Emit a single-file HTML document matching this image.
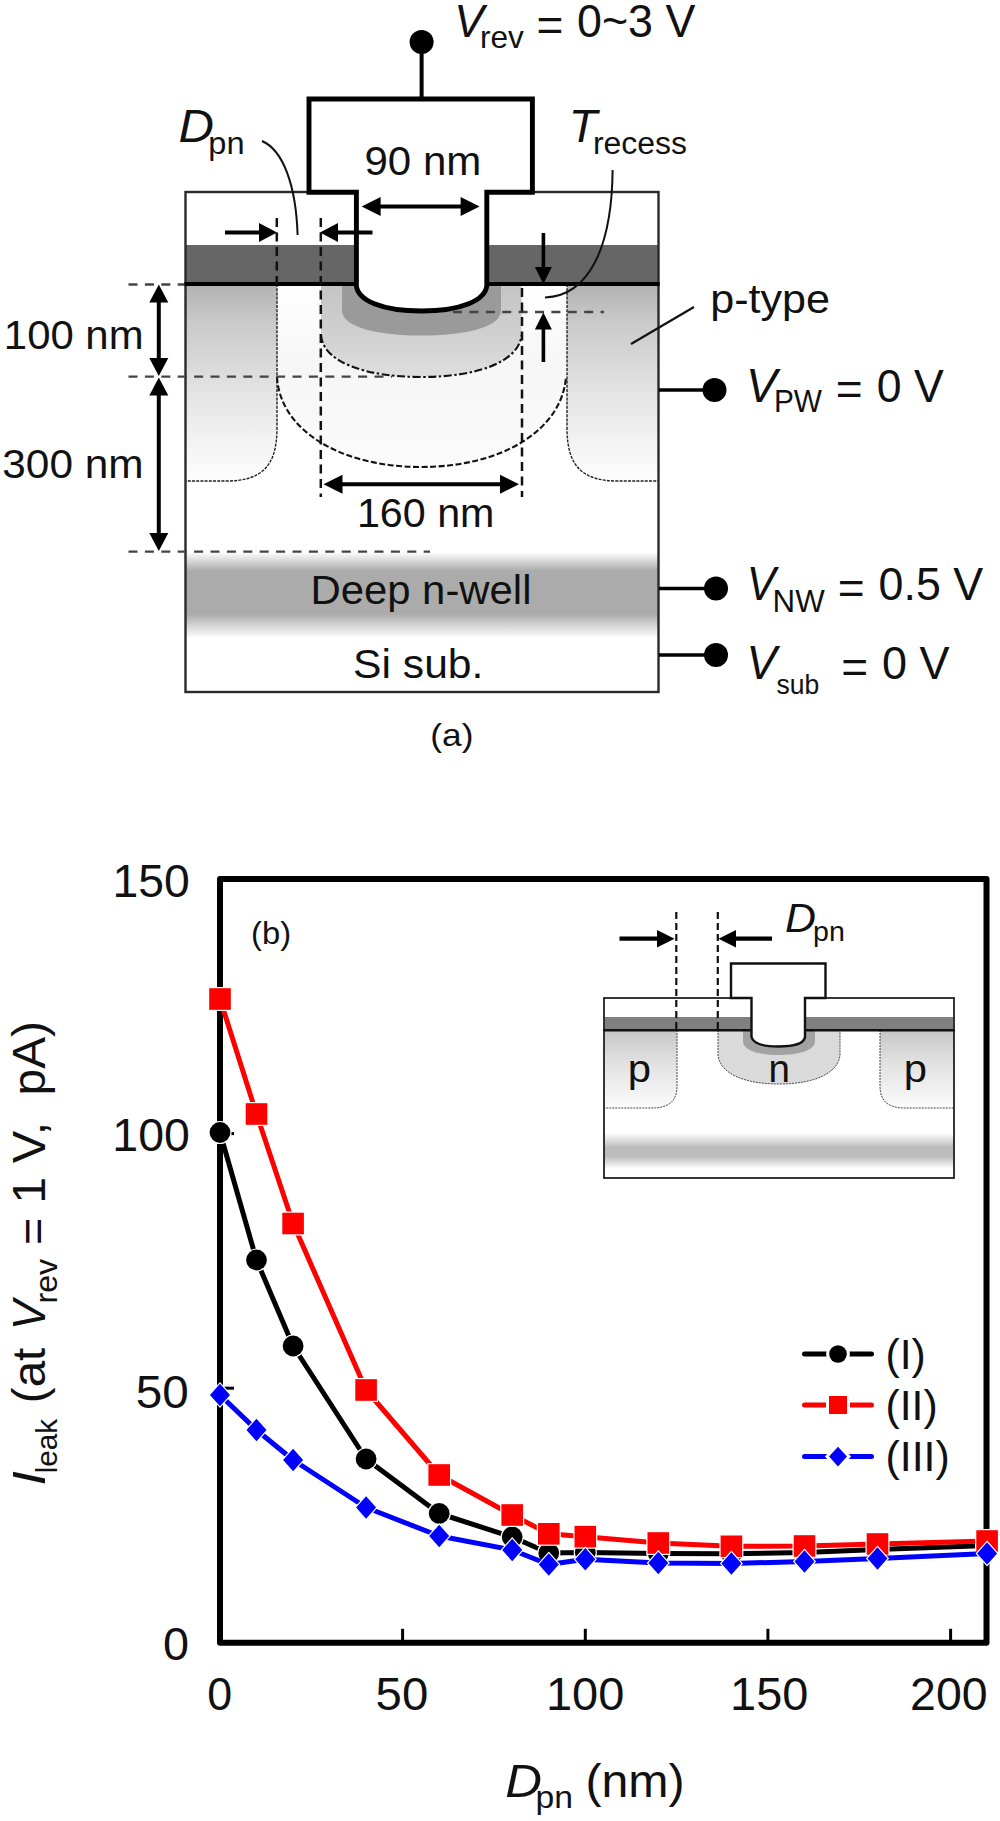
<!DOCTYPE html>
<html lang="en">
<head>
<meta charset="utf-8">
<title>Figure</title>
<style>
html,body{margin:0;padding:0;background:#fff;}
body{width:1000px;height:1821px;overflow:hidden;}
svg{display:block;}
text{font-family:"Liberation Sans",Arial,Helvetica,sans-serif;fill:#111;}
</style>
</head>
<body>
<svg width="1000" height="1821" viewBox="0 0 1000 1821">
<defs>
<linearGradient id="pw" x1="0" y1="0" x2="0" y2="1">
<stop offset="0" stop-color="#b2b2b2"/><stop offset="0.2" stop-color="#cacaca"/><stop offset="0.5" stop-color="#e0e0e0"/><stop offset="0.8" stop-color="#f3f3f3"/><stop offset="1" stop-color="#fdfdfd"/>
</linearGradient>
<linearGradient id="nm" x1="0" y1="0" x2="0" y2="1">
<stop offset="0" stop-color="#ffffff"/><stop offset="0.45" stop-color="#f6f6f6"/><stop offset="1" stop-color="#fbfbfb"/>
</linearGradient>
<linearGradient id="nr" x1="0" y1="0" x2="0" y2="1">
<stop offset="0" stop-color="#c4c4c4"/><stop offset="0.5" stop-color="#cfcfcf"/><stop offset="1" stop-color="#dedede"/>
</linearGradient>
<linearGradient id="dnw" x1="0" y1="0" x2="0" y2="1">
<stop offset="0" stop-color="#ffffff"/><stop offset="0.22" stop-color="#ababab"/><stop offset="0.72" stop-color="#ababab"/><stop offset="1" stop-color="#ffffff"/>
</linearGradient>
<linearGradient id="dnw2" x1="0" y1="0" x2="0" y2="1">
<stop offset="0" stop-color="#ffffff"/><stop offset="0.4" stop-color="#bcbcbc"/><stop offset="0.65" stop-color="#bcbcbc"/><stop offset="1" stop-color="#ffffff"/>
</linearGradient>
<linearGradient id="pw2" x1="0" y1="0" x2="0" y2="1">
<stop offset="0" stop-color="#c6c6c6"/><stop offset="0.4" stop-color="#e0e0e0"/><stop offset="1" stop-color="#fcfcfc"/>
</linearGradient>
</defs>
<rect width="1000" height="1821" fill="#fff"/>

<g id="fig-a">
<rect x="185.5" y="192" width="473" height="500" fill="#fff"/>
<rect x="185.5" y="552" width="473" height="86" fill="url(#dnw)"/>
<path d="M185.5,284 H277 V428 C277,466 262,481 226,481 H185.5 Z" fill="url(#pw)"/>
<path d="M658.5,284 H567 V428 C567,466 582,481 618,481 H658.5 Z" fill="url(#pw)"/>
<path d="M277,284 V377 C280,430 340,467 421,467 C502,467 562,430 566,377 V284 Z" fill="url(#nm)"/>
<path d="M321,284 V335 C323,362 365,377 421,377 C477,377 519,362 521.5,335 V284 Z" fill="url(#nr)"/>
<path d="M342,284 V311 C343,328 380,335.5 421.5,335.5 C463,335.5 500,328 501,311 V284 Z" fill="#9a9a9a"/>
<rect x="185.5" y="245" width="473" height="39" fill="#666"/>
<path d="M277,284 V428 C277,466 262,481 226,481 H185.5" fill="none" stroke="#222" stroke-width="1.4" stroke-dasharray="3 1.2"/>
<path d="M567,284 V428 C567,466 582,481 618,481 H658.5" fill="none" stroke="#222" stroke-width="1.4" stroke-dasharray="3 1.2"/>
<path d="M277,377 C280,430 340,467 421,467 C502,467 562,430 566,377" fill="none" stroke="#111" stroke-width="2.1" stroke-dasharray="6 2.5"/>
<path d="M321,335 C323,362 365,377 421,377 C477,377 519,362 521.5,335" fill="none" stroke="#111" stroke-width="2.1" stroke-dasharray="8 2.5 2.5 2.5"/>
<rect x="185.5" y="192" width="473" height="500" fill="none" stroke="#2a2a2a" stroke-width="2.4"/>
<path d="M184.3,284 H659.7" stroke="#000" stroke-width="4" fill="none"/>
<path d="M309,99 H532.4 V192.3 H486.8 V286 C485,300 462,311 421.6,311 C381,311 358,300 356.4,286 V192.3 H309 Z" fill="#fff" stroke="#000" stroke-width="4.9" stroke-linejoin="miter"/>
<path d="M421.6,42 V99" stroke="#000" stroke-width="4" fill="none"/>
<circle cx="421.6" cy="42" r="12" fill="#000"/>
<path d="M128.5,284.5 H184" stroke="#444" stroke-width="2.3" stroke-dasharray="9 7.4" fill="none"/>
<path d="M128.5,376.6 H392" stroke="#444" stroke-width="2.3" stroke-dasharray="9 7.4" fill="none"/>
<path d="M128.5,551.6 H430" stroke="#444" stroke-width="2.3" stroke-dasharray="9 7.4" fill="none"/>
<path d="M453,312 H604" stroke="#444" stroke-width="2.3" stroke-dasharray="9 7.4" fill="none"/>
<path d="M276.8,218 V284" stroke="#111" stroke-width="2.5" stroke-dasharray="9 5.5" fill="none"/>
<path d="M320.8,218 V497" stroke="#111" stroke-width="2.5" stroke-dasharray="9 5.5" fill="none"/>
<path d="M522,288 V497" stroke="#111" stroke-width="2.5" stroke-dasharray="9 5.5" fill="none"/>
<path d="M225,232.6 H261" stroke="#000" stroke-width="4" fill="none"/>
<path d="M277,232.6 L259,223.1 L259,242.1 Z" fill="#000"/>
<path d="M372.5,232.6 H336" stroke="#000" stroke-width="4" fill="none"/>
<path d="M320,232.6 L338,223.1 L338,242.1 Z" fill="#000"/>
<path d="M378.6,206.4 H462.6" stroke="#000" stroke-width="4" fill="none"/>
<path d="M361.6,206.4 L380.6,196.9 L380.6,215.9 Z" fill="#000"/>
<path d="M479.6,206.4 L460.6,196.9 L460.6,215.9 Z" fill="#000"/>
<path d="M340.5,484.25 H502" stroke="#000" stroke-width="4" fill="none"/>
<path d="M323.5,484.25 L342.5,474.75 L342.5,493.75 Z" fill="#000"/>
<path d="M519,484.25 L500,474.75 L500,493.75 Z" fill="#000"/>
<path d="M158.8,300.5 V360" stroke="#000" stroke-width="4" fill="none"/>
<path d="M158.8,284.5 L149.3,302.5 L168.3,302.5 Z" fill="#000"/>
<path d="M158.8,376 L149.3,358 L168.3,358 Z" fill="#000"/>
<path d="M158.8,393.5 V535" stroke="#000" stroke-width="4" fill="none"/>
<path d="M158.8,377.5 L149.3,395.5 L168.3,395.5 Z" fill="#000"/>
<path d="M158.8,551 L149.3,533 L168.3,533 Z" fill="#000"/>
<path d="M543.4,233 V269" stroke="#000" stroke-width="3.6" fill="none"/>
<path d="M543.4,284 L534.9,267 L551.9,267 Z" fill="#000"/>
<path d="M543.4,362 V327.5" stroke="#000" stroke-width="3.6" fill="none"/>
<path d="M543.4,312.5 L534.9,329.5 L551.9,329.5 Z" fill="#000"/>
<path d="M262,141 C283,150 296,185 297.6,235" fill="none" stroke="#111" stroke-width="2"/>
<path d="M612.6,170 C612,245 590,296 545,297.5" fill="none" stroke="#111" stroke-width="2"/>
<path d="M694,307 L631,344" fill="none" stroke="#111" stroke-width="2.1"/>
<path d="M659,390 H714.5" stroke="#000" stroke-width="3.3" fill="none"/>
<circle cx="714.5" cy="390" r="12" fill="#000"/>
<path d="M659,588.5 H716" stroke="#000" stroke-width="3.3" fill="none"/>
<circle cx="716" cy="588.5" r="12" fill="#000"/>
<path d="M659,655 H716" stroke="#000" stroke-width="3.3" fill="none"/>
<circle cx="716" cy="655" r="12" fill="#000"/>
<text x="454.2" y="37.3" font-size="47" textLength="29.81" lengthAdjust="spacingAndGlyphs" font-style="italic">V</text>
<text x="479.95" y="48" font-size="30.5" textLength="43.89" lengthAdjust="spacingAndGlyphs">rev</text>
<text x="536.5" y="40.9" font-size="46">=</text>
<text x="577.01" y="37.3" font-size="46" textLength="118.27" lengthAdjust="spacingAndGlyphs">0~3 V</text>
<text x="178.53" y="142.4" font-size="45.5" textLength="35.45" lengthAdjust="spacingAndGlyphs" font-style="italic">D</text>
<text x="208.38" y="154" font-size="31" textLength="36.21" lengthAdjust="spacingAndGlyphs">pn</text>
<text x="568.81" y="142.4" font-size="45.5" textLength="28.44" lengthAdjust="spacingAndGlyphs" font-style="italic">T</text>
<text x="592.92" y="153.6" font-size="31" textLength="94.21" lengthAdjust="spacingAndGlyphs">recess</text>
<text x="364.51" y="175.4" font-size="41" textLength="116.8" lengthAdjust="spacingAndGlyphs">90 nm</text>
<text x="3.86" y="348.6" font-size="41" textLength="139.68" lengthAdjust="spacingAndGlyphs">100 nm</text>
<text x="2.31" y="478" font-size="41" textLength="141.26" lengthAdjust="spacingAndGlyphs">300 nm</text>
<text x="356.91" y="527" font-size="41" textLength="137.59" lengthAdjust="spacingAndGlyphs">160 nm</text>
<text x="710.2" y="313" font-size="41" textLength="119.71" lengthAdjust="spacingAndGlyphs">p-type</text>
<text x="310.4" y="603.5" font-size="41" textLength="221.09" lengthAdjust="spacingAndGlyphs">Deep n-well</text>
<text x="353.08" y="677.5" font-size="41" textLength="130.35" lengthAdjust="spacingAndGlyphs">Si sub.</text>
<text x="430.38" y="745.5" font-size="32" textLength="43.11" lengthAdjust="spacingAndGlyphs">(a)</text>
<text x="746.05" y="401.6" font-size="47.5" textLength="31.03" lengthAdjust="spacingAndGlyphs" font-style="italic">V</text>
<text x="773.91" y="411.6" font-size="30.5" textLength="48.06" lengthAdjust="spacingAndGlyphs">PW</text>
<text x="835.7" y="405.20000000000005" font-size="46">=</text>
<text x="876.82" y="401.6" font-size="46" textLength="66.95" lengthAdjust="spacingAndGlyphs">0 V</text>
<text x="746.72" y="600.2" font-size="47.5" textLength="28.9" lengthAdjust="spacingAndGlyphs" font-style="italic">V</text>
<text x="772.6" y="612.4" font-size="30.5" textLength="52.09" lengthAdjust="spacingAndGlyphs">NW</text>
<text x="837.8" y="603.8000000000001" font-size="46">=</text>
<text x="878.61" y="600.2" font-size="46" textLength="104.62" lengthAdjust="spacingAndGlyphs">0.5 V</text>
<text x="746.55" y="679.2" font-size="47.5" textLength="30.22" lengthAdjust="spacingAndGlyphs" font-style="italic">V</text>
<text x="776.41" y="694.3" font-size="27" textLength="42.72" lengthAdjust="spacingAndGlyphs">sub</text>
<text x="841.2" y="682.8000000000001" font-size="46">=</text>
<text x="882.0" y="679.2" font-size="46" textLength="67.57" lengthAdjust="spacingAndGlyphs">0 V</text>
</g>
<g id="fig-b">
<rect x="220.0" y="879.0" width="766.5" height="763.8" fill="none" stroke="#000" stroke-width="6" stroke-linejoin="round"/>
<path d="M402.6,1642.8 v-14" stroke="#000" stroke-width="3" fill="none"/>
<path d="M585.3,1642.8 v-14" stroke="#000" stroke-width="3" fill="none"/>
<path d="M767.9,1642.8 v-14" stroke="#000" stroke-width="3" fill="none"/>
<path d="M950.6,1642.8 v-14" stroke="#000" stroke-width="3" fill="none"/>
<path d="M220.0,1388.2 h14" stroke="#000" stroke-width="3" fill="none"/>
<path d="M220.0,1133.6 h14" stroke="#000" stroke-width="3" fill="none"/>
<g id="inset">
<rect x="604" y="998" width="350" height="180" fill="#fff"/>
<rect x="604" y="1133" width="350" height="36" fill="url(#dnw2)"/>
<path d="M604,1030 H677 V1086 C677,1101 669,1108 652,1108 H604 Z" fill="url(#pw2)"/>
<path d="M954,1030 H880 V1086 C880,1101 888,1108 905,1108 H954 Z" fill="url(#pw2)"/>
<path d="M718,1030 V1055 C720,1074 745,1084 779,1084 C813,1084 838,1074 840,1055 V1030 Z" fill="#dadada"/>
<path d="M743,1030 V1042 C744,1051 760,1055 778.5,1055 C797,1055 814,1051 815,1042 V1030 Z" fill="#a2a2a2"/>
<rect x="604" y="1017" width="350" height="13" fill="#808080"/>
<path d="M677,1030 V1086 C677,1101 669,1108 652,1108 H604" fill="none" stroke="#333" stroke-width="0.9" stroke-dasharray="2 1"/>
<path d="M880,1030 V1086 C880,1101 888,1108 905,1108 H954" fill="none" stroke="#333" stroke-width="0.9" stroke-dasharray="2 1"/>
<path d="M718,1030 V1055 C720,1074 745,1084 779,1084 C813,1084 838,1074 840,1055 V1030" fill="none" stroke="#333" stroke-width="0.9" stroke-dasharray="2 1"/>
<rect x="604" y="998" width="350" height="180" fill="none" stroke="#222" stroke-width="1.8"/>
<path d="M603.2,1030.3 H954.8" stroke="#111" stroke-width="2.6" fill="none"/>
<path d="M731,963.5 H825.5 V998 H805 V1037 C804,1043 795,1046.5 778.3,1046.5 C762,1046.5 753,1043 751.5,1037 V998 H731 Z" fill="#fff" stroke="#111" stroke-width="2.4"/>
<path d="M676.3,912 V1030" stroke="#111" stroke-width="2.2" stroke-dasharray="7 4" fill="none"/>
<path d="M717.8,912 V1030" stroke="#111" stroke-width="2.2" stroke-dasharray="7 4" fill="none"/>
<path d="M619.5,938.7 H659.0" stroke="#000" stroke-width="4.2" fill="none"/>
<path d="M674.5,938.7 L657.0,929.95 L657.0,947.45 Z" fill="#000"/>
<path d="M772,938.7 H734.0" stroke="#000" stroke-width="4.2" fill="none"/>
<path d="M718.5,938.7 L736.0,929.95 L736.0,947.45 Z" fill="#000"/>
<text x="785.11" y="931.8" font-size="41.5" textLength="30.97" lengthAdjust="spacingAndGlyphs" font-style="italic">D</text>
<text x="813.14" y="941.3" font-size="28" textLength="31.78" lengthAdjust="spacingAndGlyphs">pn</text>
<text x="627.88" y="1082" font-size="39" textLength="23.24" lengthAdjust="spacingAndGlyphs">p</text>
<text x="768.49" y="1081.6" font-size="39" textLength="21.46" lengthAdjust="spacingAndGlyphs">n</text>
<text x="903.78" y="1082" font-size="39" textLength="23.24" lengthAdjust="spacingAndGlyphs">p</text>
</g>
<polyline points="220.0,1132.5 256.5,1260.0 293.1,1346.0 366.1,1459.0 439.2,1513.5 512.2,1537.0 548.8,1553.0 585.3,1552.5 658.3,1553.6 731.4,1553.8 804.5,1552.5 877.5,1549.5 987.1,1545.5" fill="none" stroke="#000" stroke-width="5" stroke-linejoin="round"/>
<circle cx="220.0" cy="1132.5" r="10.4" fill="#000" stroke="#fff" stroke-width="2.4" paint-order="stroke"/>
<circle cx="256.5" cy="1260.0" r="10.4" fill="#000" stroke="#fff" stroke-width="2.4" paint-order="stroke"/>
<circle cx="293.1" cy="1346.0" r="10.4" fill="#000" stroke="#fff" stroke-width="2.4" paint-order="stroke"/>
<circle cx="366.1" cy="1459.0" r="10.4" fill="#000" stroke="#fff" stroke-width="2.4" paint-order="stroke"/>
<circle cx="439.2" cy="1513.5" r="10.4" fill="#000" stroke="#fff" stroke-width="2.4" paint-order="stroke"/>
<circle cx="512.2" cy="1537.0" r="10.4" fill="#000" stroke="#fff" stroke-width="2.4" paint-order="stroke"/>
<circle cx="548.8" cy="1553.0" r="10.4" fill="#000" stroke="#fff" stroke-width="2.4" paint-order="stroke"/>
<circle cx="585.3" cy="1552.5" r="10.4" fill="#000" stroke="#fff" stroke-width="2.4" paint-order="stroke"/>
<circle cx="658.3" cy="1553.6" r="10.4" fill="#000" stroke="#fff" stroke-width="2.4" paint-order="stroke"/>
<circle cx="731.4" cy="1553.8" r="10.4" fill="#000" stroke="#fff" stroke-width="2.4" paint-order="stroke"/>
<circle cx="804.5" cy="1552.5" r="10.4" fill="#000" stroke="#fff" stroke-width="2.4" paint-order="stroke"/>
<circle cx="877.5" cy="1549.5" r="10.4" fill="#000" stroke="#fff" stroke-width="2.4" paint-order="stroke"/>
<circle cx="987.1" cy="1545.5" r="10.4" fill="#000" stroke="#fff" stroke-width="2.4" paint-order="stroke"/>
<polyline points="220.0,999.0 256.5,1114.0 293.1,1223.5 366.1,1390.0 439.2,1475.0 512.2,1515.0 548.8,1533.8 585.3,1536.7 658.3,1543.0 731.4,1546.3 804.5,1546.0 877.5,1544.0 987.1,1541.0" fill="none" stroke="#ff0000" stroke-width="5" stroke-linejoin="round"/>
<rect x="209.2" y="988.2" width="21.6" height="21.6" fill="#ff0000" stroke="#fff" stroke-width="2.4" paint-order="stroke"/>
<rect x="245.7" y="1103.2" width="21.6" height="21.6" fill="#ff0000" stroke="#fff" stroke-width="2.4" paint-order="stroke"/>
<rect x="282.3" y="1212.7" width="21.6" height="21.6" fill="#ff0000" stroke="#fff" stroke-width="2.4" paint-order="stroke"/>
<rect x="355.3" y="1379.2" width="21.6" height="21.6" fill="#ff0000" stroke="#fff" stroke-width="2.4" paint-order="stroke"/>
<rect x="428.4" y="1464.2" width="21.6" height="21.6" fill="#ff0000" stroke="#fff" stroke-width="2.4" paint-order="stroke"/>
<rect x="501.4" y="1504.2" width="21.6" height="21.6" fill="#ff0000" stroke="#fff" stroke-width="2.4" paint-order="stroke"/>
<rect x="538.0" y="1523.0" width="21.6" height="21.6" fill="#ff0000" stroke="#fff" stroke-width="2.4" paint-order="stroke"/>
<rect x="574.5" y="1525.9" width="21.6" height="21.6" fill="#ff0000" stroke="#fff" stroke-width="2.4" paint-order="stroke"/>
<rect x="647.5" y="1532.2" width="21.6" height="21.6" fill="#ff0000" stroke="#fff" stroke-width="2.4" paint-order="stroke"/>
<rect x="720.6" y="1535.5" width="21.6" height="21.6" fill="#ff0000" stroke="#fff" stroke-width="2.4" paint-order="stroke"/>
<rect x="793.7" y="1535.2" width="21.6" height="21.6" fill="#ff0000" stroke="#fff" stroke-width="2.4" paint-order="stroke"/>
<rect x="866.7" y="1533.2" width="21.6" height="21.6" fill="#ff0000" stroke="#fff" stroke-width="2.4" paint-order="stroke"/>
<rect x="976.3" y="1530.2" width="21.6" height="21.6" fill="#ff0000" stroke="#fff" stroke-width="2.4" paint-order="stroke"/>
<polyline points="220.0,1395.0 256.5,1430.0 293.1,1460.0 366.1,1507.5 439.2,1536.0 512.2,1550.0 548.8,1564.5 585.3,1559.3 658.3,1563.0 731.4,1563.5 804.5,1561.5 877.5,1558.5 987.1,1553.5" fill="none" stroke="#0000ff" stroke-width="5" stroke-linejoin="round"/>
<path d="M220.0,1383.7 l10,11.3 l-10,11.3 l-10,-11.3 Z" fill="#0000ff" stroke="#fff" stroke-width="2.4" paint-order="stroke"/>
<path d="M256.5,1418.7 l10,11.3 l-10,11.3 l-10,-11.3 Z" fill="#0000ff" stroke="#fff" stroke-width="2.4" paint-order="stroke"/>
<path d="M293.1,1448.7 l10,11.3 l-10,11.3 l-10,-11.3 Z" fill="#0000ff" stroke="#fff" stroke-width="2.4" paint-order="stroke"/>
<path d="M366.1,1496.2 l10,11.3 l-10,11.3 l-10,-11.3 Z" fill="#0000ff" stroke="#fff" stroke-width="2.4" paint-order="stroke"/>
<path d="M439.2,1524.7 l10,11.3 l-10,11.3 l-10,-11.3 Z" fill="#0000ff" stroke="#fff" stroke-width="2.4" paint-order="stroke"/>
<path d="M512.2,1538.7 l10,11.3 l-10,11.3 l-10,-11.3 Z" fill="#0000ff" stroke="#fff" stroke-width="2.4" paint-order="stroke"/>
<path d="M548.8,1553.2 l10,11.3 l-10,11.3 l-10,-11.3 Z" fill="#0000ff" stroke="#fff" stroke-width="2.4" paint-order="stroke"/>
<path d="M585.3,1548.0 l10,11.3 l-10,11.3 l-10,-11.3 Z" fill="#0000ff" stroke="#fff" stroke-width="2.4" paint-order="stroke"/>
<path d="M658.3,1551.7 l10,11.3 l-10,11.3 l-10,-11.3 Z" fill="#0000ff" stroke="#fff" stroke-width="2.4" paint-order="stroke"/>
<path d="M731.4,1552.2 l10,11.3 l-10,11.3 l-10,-11.3 Z" fill="#0000ff" stroke="#fff" stroke-width="2.4" paint-order="stroke"/>
<path d="M804.5,1550.2 l10,11.3 l-10,11.3 l-10,-11.3 Z" fill="#0000ff" stroke="#fff" stroke-width="2.4" paint-order="stroke"/>
<path d="M877.5,1547.2 l10,11.3 l-10,11.3 l-10,-11.3 Z" fill="#0000ff" stroke="#fff" stroke-width="2.4" paint-order="stroke"/>
<path d="M987.1,1542.2 l10,11.3 l-10,11.3 l-10,-11.3 Z" fill="#0000ff" stroke="#fff" stroke-width="2.4" paint-order="stroke"/>
<path d="M804.5,1354 H871.5" stroke="#000" stroke-width="5" stroke-linecap="round" fill="none"/>
<circle cx="838" cy="1354" r="8.8" fill="#000" stroke="#fff" stroke-width="6" paint-order="stroke"/>
<path d="M804.5,1405 H871.5" stroke="#ff0000" stroke-width="5" stroke-linecap="round" fill="none"/>
<rect x="829" y="1396" width="18" height="18" fill="#ff0000" stroke="#fff" stroke-width="6" paint-order="stroke"/>
<path d="M804.5,1456.6 H871.5" stroke="#0000ff" stroke-width="5" stroke-linecap="round" fill="none"/>
<path d="M838,1446.8 l9,9.8 l-9,9.8 l-9,-9.8 Z" fill="#0000ff" stroke="#fff" stroke-width="6" paint-order="stroke"/>
<text x="885.44" y="1369" font-size="42.5" textLength="40.29" lengthAdjust="spacingAndGlyphs">(I)</text>
<text x="885.44" y="1419.6" font-size="42.5" textLength="52.2" lengthAdjust="spacingAndGlyphs">(II)</text>
<text x="885.43" y="1471" font-size="42.5" textLength="64.34" lengthAdjust="spacingAndGlyphs">(III)</text>
<text x="112.53" y="897" font-size="46" textLength="77.26" lengthAdjust="spacingAndGlyphs">150</text>
<text x="112.32" y="1151" font-size="46" textLength="77.47" lengthAdjust="spacingAndGlyphs">100</text>
<text x="135.69" y="1408" font-size="46" textLength="53.09" lengthAdjust="spacingAndGlyphs">50</text>
<text x="163.12" y="1660" font-size="46" textLength="26.07" lengthAdjust="spacingAndGlyphs">0</text>
<text x="207.21" y="1710" font-size="46" textLength="24.91" lengthAdjust="spacingAndGlyphs">0</text>
<text x="375.61" y="1710" font-size="46" textLength="52.66" lengthAdjust="spacingAndGlyphs">50</text>
<text x="545.98" y="1710" font-size="46" textLength="78.33" lengthAdjust="spacingAndGlyphs">100</text>
<text x="730.08" y="1710" font-size="46" textLength="78.22" lengthAdjust="spacingAndGlyphs">150</text>
<text x="910.08" y="1710" font-size="46" textLength="77.51" lengthAdjust="spacingAndGlyphs">200</text>
<text x="251.04" y="943.5" font-size="32" textLength="40.0" lengthAdjust="spacingAndGlyphs">(b)</text>
<text x="505.27" y="1797" font-size="47" textLength="36.77" lengthAdjust="spacingAndGlyphs" font-style="italic">D</text>
<text x="535.41" y="1807.8" font-size="31" textLength="37.46" lengthAdjust="spacingAndGlyphs">pn</text>
<text x="585.4" y="1797" font-size="46.5" textLength="99.25" lengthAdjust="spacingAndGlyphs">(nm)</text>
<g transform="translate(45.3,1488) rotate(-90)">
<text x="2.62" y="0" font-size="47" textLength="14.45" lengthAdjust="spacingAndGlyphs" font-style="italic">I</text>
<text x="14.67" y="11.7" font-size="30" textLength="54.52" lengthAdjust="spacingAndGlyphs">leak</text>
<text x="84.85" y="0" font-size="47" textLength="55.49" lengthAdjust="spacingAndGlyphs">(at</text>
<text x="158.0" y="0" font-size="47" textLength="29.81" lengthAdjust="spacingAndGlyphs" font-style="italic">V</text>
<text x="184.41" y="11.7" font-size="30.5" textLength="44.73" lengthAdjust="spacingAndGlyphs">rev</text>
<text x="243.05" y="3.6" font-size="47">=</text>
<text x="284.36" y="0" font-size="47" textLength="81.86" lengthAdjust="spacingAndGlyphs">1 V,</text>
<text x="392.6" y="0" font-size="47" textLength="74.33" lengthAdjust="spacingAndGlyphs">pA)</text>
</g>
</g>
</svg>
</body>
</html>
